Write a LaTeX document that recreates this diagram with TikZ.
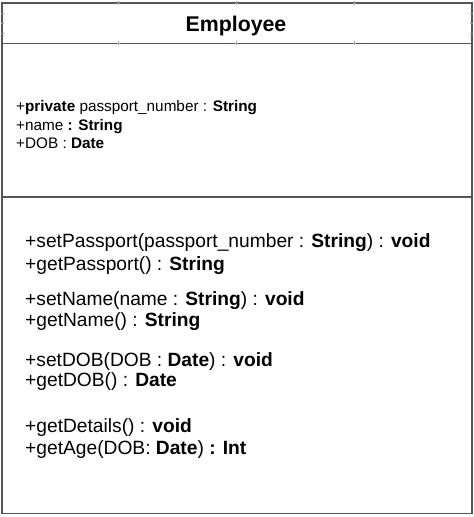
\documentclass[tikz,border=0pt]{standalone}
\usepackage{fontspec}
\setmainfont{Liberation Sans}
\definecolor{edge}{HTML}{555555}
\definecolor{handle}{RGB}{110,170,220}
\begin{document}
\begin{tikzpicture}[x=1pt,y=-1pt,
  compartment/.style={draw=edge, line width=1.6pt, rectangle, outer sep=0pt, inner sep=0pt, anchor=north west, minimum width=469.7pt},
  titletext/.style={font=\fontsize{21.3}{25}\selectfont\bfseries, anchor=base, inner sep=0pt},
  attrtext/.style={font=\fontsize{15.3}{18}\selectfont, anchor=base west, inner sep=0pt},
  methtext/.style={font=\fontsize{19.2}{23}\selectfont, anchor=base west, inner sep=0pt},
  handlemark/.style={draw=handle, line width=0.9pt}]
\useasboundingbox (0,0) rectangle (474,517);
\fill[white] (0,0) rectangle (474,517);
% compartments
\node[compartment, minimum height=40.3pt] (head) at (2,3) {};
\node[compartment, minimum height=153.4pt] (attrs) at (2,43.3) {};
\node[compartment, minimum height=316.6pt] (meths) at (2,196.7) {};
% title
\node[titletext] (title) at (236,31.7) {Employee};
% attributes
\node[attrtext] (a1) at (16,111.7) {+\textbf{private} passport\_number : \textbf{String}};
\node[attrtext] (a2) at (16,130.7) {+name \textbf{: String}};
\node[attrtext] (a3) at (16,148.3) {+DOB : \textbf{Date}};
% methods
\node[methtext] (m1) at (25,247.3) {+setPassport(passport\_number : \textbf{String}) : \textbf{void}};
\node[methtext] (m2) at (25,270) {+getPassport() : \textbf{String}};
\node[methtext] (m3) at (25,305) {+setName(name : \textbf{String}) : \textbf{void}};
\node[methtext] (m4) at (25,326.7) {+getName() : \textbf{String}};
\node[methtext] (m5) at (25,366) {+setDOB(DOB : \textbf{Date}) : \textbf{void}};
\node[methtext] (m6) at (25,386.7) {+getDOB() : \textbf{Date}};
\node[methtext] (m7) at (25,432.7) {+getDetails() : \textbf{void}};
\node[methtext] (m8) at (25,454.3) {+getAge(DOB: \textbf{Date}) \textbf{: Int}};
% selection handles
\foreach \hx in {118,236,354}{
  \draw[handlemark] (\hx,1) -- (\hx,5);
  \draw[handlemark] (\hx-1.5,3) -- (\hx+1.5,3);
  \draw[handlemark] (\hx,41.3) -- (\hx,45.3);
  \draw[handlemark] (\hx-1.5,43.3) -- (\hx+1.5,43.3);
}
\foreach \hy in {13,23,33}{
  \draw[handlemark] (0.5,\hy) -- (3.5,\hy);
  \draw[handlemark] (470.2,\hy) -- (473.2,\hy);
}
\end{tikzpicture}
\end{document}
